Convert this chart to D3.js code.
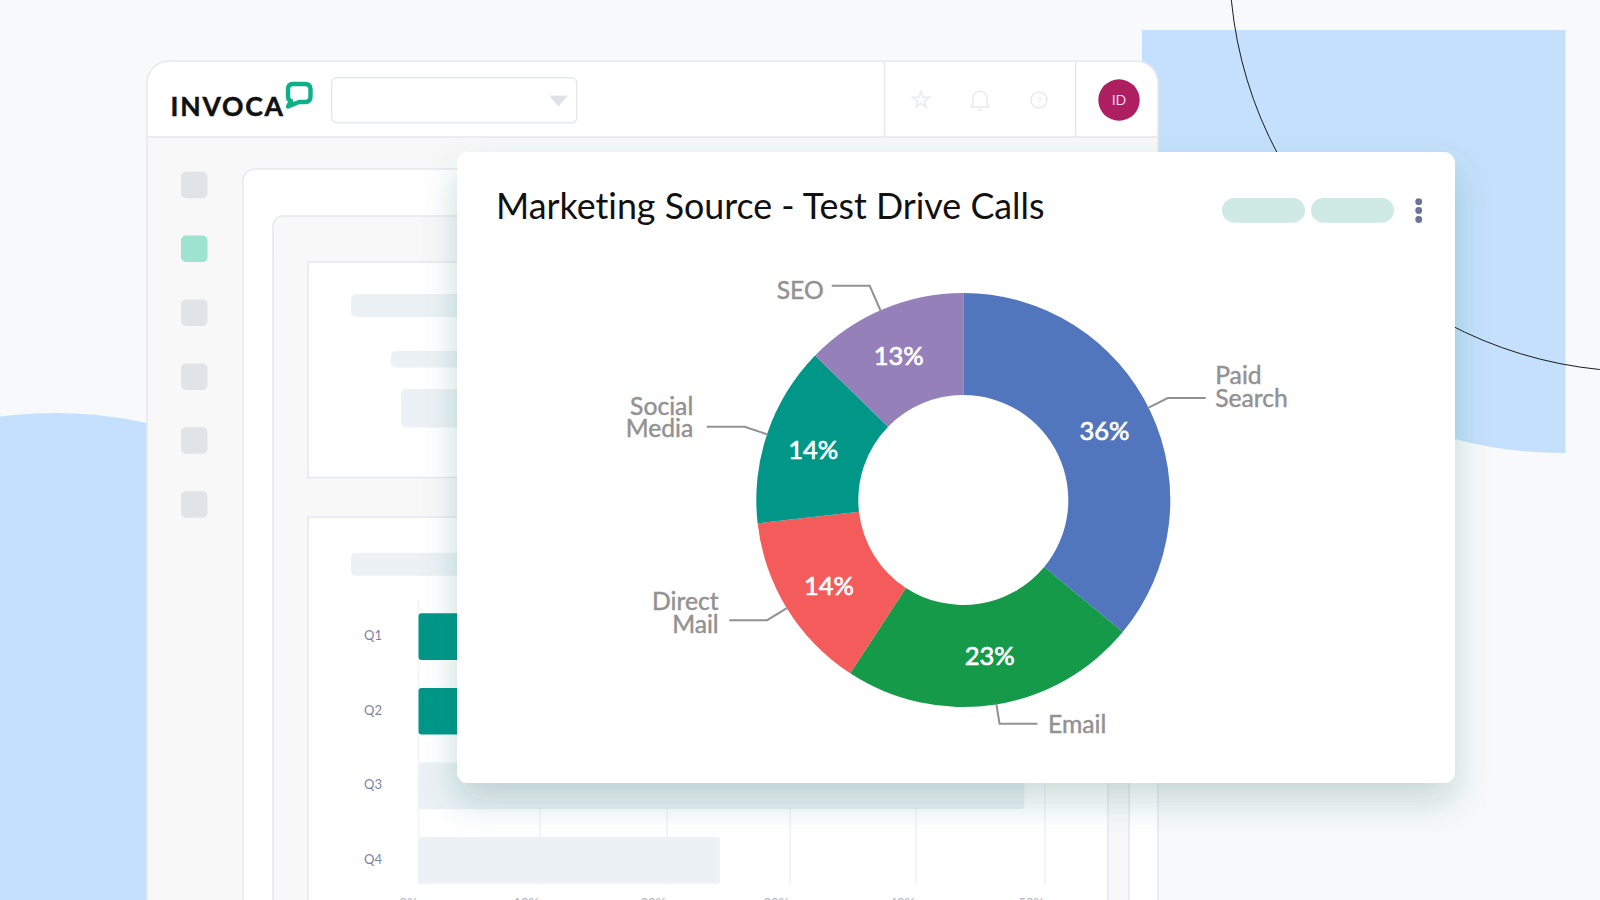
<!DOCTYPE html>
<html><head><meta charset="utf-8">
<script src="https://cdn.jsdelivr.net/npm/d3@7"></script>
<style>html,body{margin:0;padding:0;background:#f8f9fb;overflow:hidden}svg{display:block;font-family:Lato,"Open Sans",sans-serif;font-variant-ligatures:none}</style>
</head><body><svg id="c" width="1600" height="900"></svg>
<script>
// donut data
const sliceNames = [["Paid","Search"],["Email"],["Direct","Mail"],["Social","Media"],["SEO"]];
const sliceValues = [36,23.2,14,14.1,12.7];
const sliceColors = ["#5176bd","#149a48","#f45b5b","#009788","#9680ba"];
const leaderAngles = [63.5,170.8,238.5,288.5,336.4];
const leaderRadii = [228.4,226.6,230,230.5,233.7];
const chartTitle = "Marketing Source - Test Drive Calls";
// background bar chart data
const quarters = ["Q1","Q2","Q3","Q4"];
const quarterValues = [36,28,48.4,24.3];
const quarterColors = ["#009788","#009788","#ecf1f5","#ecf1f5"];
const tickValues = [0,10,20,30,40,50];
const tickLabels = ["0%","10%","20%","30%","40%","50%"];

const svg = d3.select("#c");
const defs = svg.append("defs");
const f = defs.append("filter").attr("id","sh").attr("x","-15%").attr("y","-15%").attr("width","130%").attr("height","135%");
f.append("feDropShadow").attr("dx",0).attr("dy",18).attr("stdDeviation",17).attr("flood-color","#1c6a62").attr("flood-opacity",.23);
defs.append("clipPath").attr("id","win").append("rect").attr("x",147).attr("y",61).attr("width",1011).attr("height",900).attr("rx",22);

// backdrop
svg.append("rect").attr("width",1600).attr("height",900).attr("fill","#f8f9fb");
svg.append("path").attr("d","M1142 30H1565.5V453Q1505 453 1455 439Q1300 400 1142 330Z").attr("fill","#c5e0fc");
svg.append("circle").attr("cx",55).attr("cy",833).attr("r",420).attr("fill","#c5e0fc");
svg.append("rect").attr("x",0).attr("y",800).attr("width",160).attr("height",100).attr("fill","#c5e0fc");
svg.append("circle").attr("cx",1640).attr("cy",-39).attr("r",410.5).attr("fill","none").attr("stroke","#1a1a1a").attr("stroke-width",1);

// app window
const line = "#e6e8ef";
const win = svg.append("g").attr("clip-path","url(#win)");
win.append("rect").attr("x",147).attr("y",61).attr("width",1011).attr("height",900).attr("fill","#f8f8f9");
win.append("rect").attr("x",243).attr("y",169).attr("width",930).attr("height",800).attr("rx",12).attr("fill","#fff").attr("stroke",line).attr("stroke-width",1.5);
win.append("rect").attr("x",273).attr("y",216).attr("width",856).attr("height",800).attr("rx",10).attr("fill","#f8f8f9").attr("stroke",line).attr("stroke-width",1.5);
win.append("rect").attr("x",308).attr("y",262).attr("width",800).attr("height",215.5).attr("fill","#fff").attr("stroke",line).attr("stroke-width",1.5);
win.append("rect").attr("x",308).attr("y",517).attr("width",800).attr("height",500).attr("fill","#fff").attr("stroke",line).attr("stroke-width",1.5);
win.append("rect").attr("x",147).attr("y",61).attr("width",1011).attr("height",76).attr("fill","#fff");
win.append("line").attr("x1",147).attr("x2",1158).attr("y1",137).attr("y2",137).attr("stroke",line).attr("stroke-width",1.5);
[884.5,1075.7].forEach(x=>win.append("line").attr("x1",x).attr("x2",x).attr("y1",61).attr("y2",137).attr("stroke",line).attr("stroke-width",1.5));
svg.append("rect").attr("x",147).attr("y",61).attr("width",1011).attr("height",900).attr("rx",22).attr("fill","none").attr("stroke",line).attr("stroke-width",1.5);

// sidebar
d3.range(6).forEach(i=>svg.append("rect").attr("x",181).attr("y",171.7+i*63.9).attr("width",26.5).attr("height",26.5).attr("rx",5).attr("fill",i==1?"#9ee3d0":"#e0e3e8"));

// placeholders
[[351,294,23],[391,351,16.5],[401,389,38.5],[351,552.7,23]].forEach(d=>svg.append("rect").attr("x",d[0]).attr("y",d[1]).attr("width",300).attr("height",d[2]).attr("rx",5).attr("fill","#ecf1f5"));

// header
svg.append("rect").attr("x",331.7).attr("y",77.7).attr("width",245).attr("height",45).attr("rx",5).attr("fill","#fff").attr("stroke",line).attr("stroke-width",1.5);
svg.append("path").attr("d","M550 96H567L558.5 106Z").attr("fill","#dfe3e8").attr("stroke","#dfe3e8").attr("stroke-linejoin","round");
svg.append("text").attr("x",170.5).attr("y",115.7).attr("font-size",26.5).attr("font-weight",700).attr("letter-spacing",1.8).attr("fill","#111").attr("stroke","#111").attr("stroke-width",.5).text("INVOCA");
svg.append("path").attr("d","M293 84H305Q310.5 84 310.5 89.500V96.500Q310.500 102 305 102H299L288 106.500L291 101Q288 100 288 96.500V89.500Q288 84 293 84Z").attr("fill","none").attr("stroke","#0db089").attr("stroke-width",4.4).attr("stroke-linejoin","round");
const ic="#e9ebf0";
svg.append("path").attr("transform","translate(921,100)").attr("d",d3.symbol(d3.symbolStar,85)()).attr("fill","none").attr("stroke",ic).attr("stroke-width",1.6);
svg.append("path").attr("d","M980 91Q973 92 973 99V104L971 107H989L987 104V99Q987 92 980 91ZM978 109Q980 112 982 109").attr("fill","none").attr("stroke",ic).attr("stroke-width",1.6);
svg.append("circle").attr("cx",1039).attr("cy",100).attr("r",8).attr("fill","none").attr("stroke",ic).attr("stroke-width",1.6);
svg.append("text").attr("x",1039).attr("y",104.500).attr("text-anchor","middle").attr("font-size",12).attr("fill",ic).text("?");
svg.append("circle").attr("cx",1119).attr("cy",100).attr("r",20.700).attr("fill","#ae1f62");
svg.append("text").attr("x",1119).attr("y",105).attr("text-anchor","middle").attr("font-size",14).attr("fill","#f6dbe8").text("ID");

// background bar chart
const bx = d3.scaleLinear().domain(tickValues).range([418.5,540,667,790,916,1045]);
const by = d3.scaleBand().domain(quarters).range([613.3,883.8]).paddingInner(.374).paddingOuter(0);
const bars = svg.append("g");
bars.selectAll(".g").data(tickValues).join("line").attr("x1",d=>bx(d)).attr("x2",d=>bx(d)).attr("y1",600).attr("y2",885).attr("stroke","#f3f5f8").attr("stroke-width",2);
bars.selectAll(".b").data(quarters).join("rect").attr("x",bx(0)).attr("y",d=>by(d)).attr("width",(d,i)=>bx(quarterValues[i])-bx(0)).attr("height",by.bandwidth()).attr("rx",3).attr("fill",(d,i)=>quarterColors[i]);
bars.selectAll(".q").data(quarters).join("text").attr("x",373).attr("y",d=>by(d)+by.bandwidth()/2+3.500).attr("text-anchor","middle").attr("font-size",13).attr("fill","#7d83a3").text(d=>d);
bars.selectAll(".t").data(tickValues).join("text").attr("x",d=>bx(d)-1).attr("y",907.500).attr("text-anchor","end").attr("font-size",13).attr("fill","#aeb2c4").text((d,i)=>tickLabels[i]);

// card
svg.append("rect").attr("x",457).attr("y",152).attr("width",998).attr("height",631).attr("rx",11).attr("fill","#fff").attr("filter","url(#sh)");
svg.append("text").attr("x",496).attr("y",219).attr("font-size",35.8).attr("fill","#111").text(chartTitle);
[[1222,83],[1311,83]].forEach(d=>svg.append("rect").attr("x",d[0]).attr("y",198).attr("width",d[1]).attr("height",24.700).attr("rx",12.3).attr("fill","#cfeae4"));
[201.700,210.500,219.500].forEach(y=>svg.append("circle").attr("cx",1418.700).attr("cy",y).attr("r",3.400).attr("fill","#6b7399"));

// donut
const cx=963.3, cy=500, R=207, r0=105, run=38;
const rad = d => d*Math.PI/180;
const pie = d3.pie().sort(null).value(d=>d);
const arcs = pie(sliceValues);
const arc = d3.arc().innerRadius(r0).outerRadius(R);
const g = svg.append("g").attr("transform",`translate(${cx},${cy})`);
g.selectAll(".s").data(arcs).join("path").attr("d",arc).attr("fill",(d,i)=>sliceColors[i]);
const side = i => leaderAngles[i] < 180 ? 1 : -1;
// small optical adjustments of text around the computed anchors
const pctDx = [0,3,1,0,-1.5], pctDy = [6.5,10.3,13.3,9.3,8.3];
const nameDx = [-1,0,1,-2,3.5], nameDy = [0,1,2,0,3];
g.selectAll(".p").data(arcs).join("text")
 .attr("x",(d,i)=>arc.centroid(d)[0]+(side(i)<0?-2.5:0)+pctDx[i])
 .attr("y",(d,i)=>arc.centroid(d)[1]+pctDy[i])
 .attr("text-anchor","middle").attr("font-size",25.5).attr("font-weight",400).attr("fill","#fff").attr("stroke","#fff").attr("stroke-width",.7)
 .text(d=>Math.round(d.value)+"%");
arcs.forEach((d,i)=>{
  const a=d3.pointRadial(rad(leaderAngles[i]),R-1), b=d3.pointRadial(rad(leaderAngles[i]),leaderRadii[i]), s=side(i);
  g.append("polyline").attr("fill","none").attr("stroke","#929292").attr("stroke-width",2)
   .attr("points",[a,b,[b[0]+s*run,b[1]]].map(p=>p.join(",")).join(" "));
  const lines=sliceNames[i];
  const t=g.append("text").attr("text-anchor",s>0?"start":"end").attr("font-size",24.7).attr("font-weight",400).attr("fill","#929292").attr("stroke","#929292").attr("stroke-width",.45);
  lines.forEach((w,j)=>t.append("tspan").attr("x",b[0]+s*(run+(s>0?10.5:11.5))+nameDx[i]).attr("y",b[1]+(s>0?8.7:10.5)+nameDy[i]-(lines.length-1-j)*22.4).text(w));
});
</script></body></html>
